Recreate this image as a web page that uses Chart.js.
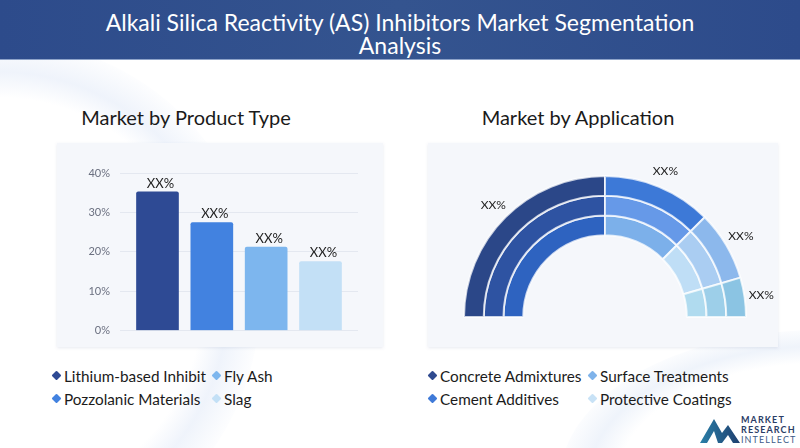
<!DOCTYPE html>
<html lang="en">
<head>
<meta charset="UTF-8">
<title>Alkali Silica Reactivity (AS) Inhibitors Market Segmentation Analysis</title>
<script src="https://cdn.jsdelivr.net/npm/chart.js"></script>
<style>
  html, body { margin: 0; padding: 0; }
  body {
    width: 800px; height: 448px; position: relative; overflow: hidden;
    font-family: Lato, "Noto Sans", sans-serif; color: #1d1d1f;
    background: #ffffff;
  }
  .swirl1 { position: absolute; left: -260px; top: 40px; width: 520px; height: 520px; border-radius: 50%;
    background: radial-gradient(circle, rgba(255,255,255,0) 55%, rgba(226,234,248,0.55) 62%, rgba(255,255,255,0) 72%); }
  .swirl2 { position: absolute; left: 560px; top: 330px; width: 520px; height: 300px; border-radius: 50%;
    background: radial-gradient(ellipse, rgba(255,255,255,0) 55%, rgba(228,236,248,0.6) 63%, rgba(255,255,255,0) 73%); }
  header {
    position: absolute; left: 0; top: 0; width: 800px; height: 60px;
    background: linear-gradient(90deg, #2d4b8b, #34548f 50%, #2d4b8b);
    border-bottom: 1px solid #8ea3c9;
    color: #fff; text-align: center; font-size: 23px; line-height: 23px;
    box-sizing: border-box; padding-top: 11px; font-weight: 400;
  }
  .sub { position: absolute; top: 105px; font-size: 20px; width: 300px; text-align: center; color: #1a1a1a; }
  .panel { position: absolute; top: 143px; height: 204px; background: #f5f7fb;
    box-shadow: 0 1px 3px rgba(120,135,170,0.18); }
  .panel canvas { position: absolute; left: 0; top: 0; }
  .legend { position: absolute; top: 364px; display: grid; grid-template-rows: 23px 23px;
    grid-template-columns: 160px 160px; grid-auto-flow: column; font-size: 15.3px; color: #1b1b1b; }
  .legend div { display: flex; align-items: center; white-space: nowrap; }
  .legend i { display: inline-block; width: 7px; height: 7px; transform: rotate(45deg);
    border-radius: 1px; margin: 0 4px 0 1px; }
  .logo { position: absolute; left: 700px; top: 413px; width: 98px; height: 32px; }
  .logo .t { position: absolute; left: 41px; font-size: 9px; letter-spacing: 1.1px; line-height: 10px; }
</style>
</head>
<body>
<div class="swirl1"></div>
<div class="swirl2"></div>
<header>Alkali Silica Reactivity (AS) Inhibitors Market Segmentation<br>Analysis</header>

<div class="sub" style="left:36px">Market by Product Type</div>
<div class="sub" style="left:428px">Market by Application</div>

<div class="panel" style="left:57px;width:326px"><canvas id="bar-chart" width="326" height="204"></canvas></div>
<div class="panel" style="left:428px;width:350px"><canvas id="pie-chart" width="350" height="204"></canvas></div>

<div class="legend" id="bar-legend" style="left:52px"></div>
<div class="legend" id="pie-legend" style="left:428px"></div>

<div class="logo">
  <svg width="40" height="32" viewBox="0 0 40 32" style="position:absolute;left:0;top:0">
    <defs>
      <linearGradient id="lg" x1="0" y1="0" x2="1" y2="0">
        <stop offset="0" stop-color="#2a7fa8"/><stop offset="1" stop-color="#1f3f6e"/>
      </linearGradient>
    </defs>
    <polygon points="0,30 14,6 22,20 28,12 40,30 33,30 28,22 22,30 18,30 14,18 7,30" fill="url(#lg)"/>
  </svg>
  <div class="t" style="top:2px;font-weight:700;color:#2b3d66">MARKET</div>
  <div class="t" style="top:12px;font-weight:700;color:#2b3d66">RESEARCH</div>
  <div class="t" style="top:22px;color:#3d5b88">INTELLECT</div>
</div>

<script>
  // Segmento por tipo de produto
  const productTypes = ['Lithium-based Inhibit', 'Pozzolanic Materials', 'Fly Ash', 'Slag'];
  const productShares = [35.2, 27.4, 21.2, 17.5];
  const productLabels = ['XX%', 'XX%', 'XX%', 'XX%'];
  const productColors = ['#2e4a94', '#4282e0', '#7db6ee', '#c3e0f6'];
  const yTicks = [0, 10, 20, 30, 40];

  // Segmento por aplicacao
  const applications = ['Concrete Admixtures', 'Cement Additives', 'Surface Treatments', 'Protective Coatings'];
  const applicationShares = [50, 25, 16, 9];
  const applicationLabels = ['XX%', 'XX%', 'XX%', 'XX%'];
  const legendColors = ['#2f4a8f', '#3f7ad8', '#7fb3ea', '#c8e2f6'];
  const ringColors = [
    ['#2b4788', '#3d79d7', '#8cb8ec', '#8bc4e3'],
    ['#2e53a2', '#6699e8', '#aacdf2', '#9dcfe9'],
    ['#2e63c0', '#7cb0ea', '#bfdef6', '#b0dbef']
  ];

  function buildLegend(id, names, colors) {
    const box = document.getElementById(id);
    names.forEach((n, i) => {
      const d = document.createElement('div');
      d.innerHTML = '<i style="background:' + colors[i] + '"></i>' + n;
      box.appendChild(d);
    });
  }
  buildLegend('bar-legend', productTypes, productColors);
  buildLegend('pie-legend', applications, legendColors);

  // escreve XX% por cima das barras
  const barLabels = {
    id: 'barLabels',
    afterDatasetsDraw(chart) {
      const ctx = chart.ctx;
      ctx.save();
      ctx.font = '13px Lato, "Noto Sans", sans-serif';
      ctx.fillStyle = '#222';
      ctx.textAlign = 'center';
      ctx.textBaseline = 'bottom';
      chart.getDatasetMeta(0).data.forEach((bar, i) => {
        ctx.fillText(productLabels[i], bar.x + 3, bar.y - 2);
      });
      ctx.restore();
    }
  };

  // escreve XX% fora do anel exterior
  const arcLabels = {
    id: 'arcLabels',
    afterDatasetsDraw(chart) {
      const ctx = chart.ctx;
      ctx.save();
      ctx.font = '12px Lato, "Noto Sans", sans-serif';
      ctx.fillStyle = '#222';
      ctx.textAlign = 'center';
      ctx.textBaseline = 'middle';
      chart.getDatasetMeta(0).data.forEach((arc, i) => {
        const a = (arc.startAngle + arc.endAngle) / 2;
        const r = arc.outerRadius * 1.12;
        ctx.fillText(applicationLabels[i], arc.x + Math.cos(a) * r, arc.y + Math.sin(a) * r);
      });
      ctx.restore();
    }
  };

  new Chart(document.getElementById('bar-chart').getContext('2d'), {
    type: 'bar',
    data: {
      datasets: [{
        data: productShares.map((v, i) => ({ x: i, y: v })),
        backgroundColor: productColors,
        barThickness: 42,
        borderRadius: 2,
        borderSkipped: 'bottom'
      }]
    },
    options: {
      responsive: false,
      animation: false,
      layout: { padding: { left: 0, top: 30, right: 25, bottom: 15 } },
      plugins: { legend: { display: false }, tooltip: { enabled: false } },
      scales: {
        x: { type: 'linear', min: -0.69, max: 3.69, offset: false, bounds: 'ticks', display: false },
        y: {
          min: 0, max: 40,
          afterBuildTicks: s => { s.ticks = yTicks.map(v => ({ value: v })); },
          afterFit: s => { s.width = 63; },
          ticks: { padding: 10, color: '#6b7080', font: { size: 11, family: 'Lato' }, callback: v => v + '%' },
          grid: { color: '#e4e8f0', drawTicks: false },
          border: { display: false }
        }
      }
    },
    plugins: [barLabels]
  });

  new Chart(document.getElementById('pie-chart').getContext('2d'), {
    type: 'doughnut',
    data: {
      labels: applications,
      datasets: ringColors.map(c => ({
        data: applicationShares,
        backgroundColor: c,
        borderColor: 'rgba(255,255,255,0.75)',
        borderWidth: 2
      }))
    },
    options: {
      responsive: false,
      animation: false,
      rotation: -90,
      circumference: 180,
      cutout: '58%',
      layout: { padding: { left: 34, right: 30, top: 32, bottom: 29 } },
      plugins: { legend: { display: false }, tooltip: { enabled: false } }
    },
    plugins: [arcLabels]
  });
</script>
</body>
</html>
